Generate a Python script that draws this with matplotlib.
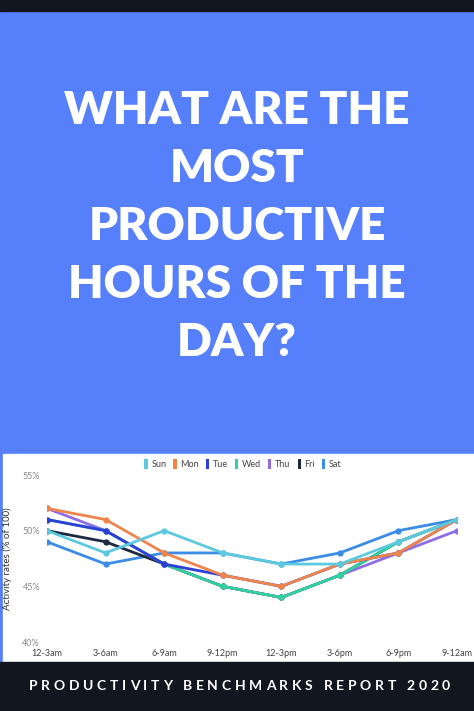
import numpy as np
import matplotlib
matplotlib.use("Agg")
import matplotlib.pyplot as plt
from matplotlib.patches import Rectangle, Patch

# Data (activity rate, % of 100)
slots = ["12-3am", "3-6am", "6-9am", "9-12pm", "12-3pm", "3-6pm", "6-9pm", "9-12am"]
days = ["Sun", "Mon", "Tue", "Wed", "Thu", "Fri", "Sat"]
sun = [50, 48, 50, 48, 47, 47, 49, 51]
mon = [52, 51, 48, 46, 45, 47, 48, 51]
tue = [51, 50, 47, 46, 45, 47, 48, 51]
wed = [51, 50, 47, 45, 44, 46, 49, 51]
thu = [52, 50, 47, 45, 44, 46, 48, 50]
fri = [50, 49, 47, 45, 44, 46, 49, 51]
sat = [49, 47, 48, 48, 47, 48, 50, 51]
series = [sun, mon, tue, wed, thu, fri, sat]
colors = ["#5cc9df", "#f0854c", "#2d3fd6", "#2fd29c", "#8e6de6", "#1e2840", "#3a8ce6"]
yticks = [40, 45, 50, 55]

title_lines = ["WHAT ARE THE", "MOST", "PRODUCTIVE", "HOURS OF THE", "DAY?"]
footer = "PRODUCTIVITY BENCHMARKS REPORT 2020"

W, H = 474, 711
fig = plt.figure(figsize=(W / 100, H / 100), dpi=100)
fig.patch.set_facecolor("#567ffb")

# background blocks in pixel coords
bg = fig.add_axes([0, 0, 1, 1])
bg.set_xlim(0, W)
bg.set_ylim(H, 0)
bg.axis("off")
bg.add_patch(Rectangle((0, 0), W, 11, color="#11161f"))
bg.add_patch(Rectangle((3, 454), W - 3, 208, color="white"))
bg.add_patch(Rectangle((0, 662), W, H - 662, color="#11161f"))

# title
for i, line in enumerate(title_lines):
    bg.text(W / 2, 110 + i * 58, line, ha="center", va="center", color="white",
            fontsize=33, fontweight="heavy", family="Lato")

# footer, letters spread out to fill x = 29..450
fig.canvas.draw()
renderer = fig.canvas.get_renderer()
widths = []
for ch in footer:
    t = bg.text(0, 0, ch, fontsize=10, fontweight="bold", family="Lato")
    w = t.get_window_extent(renderer).width
    t.remove()
    widths.append(w)
x0, x1 = 29, 450
tracking = (x1 - x0 - sum(widths)) / (len(footer) - 1)
x = x0
for ch, w in zip(footer, widths):
    if ch != " ":
        bg.text(x, 686, ch, ha="left", va="center", color="white",
                fontsize=10, fontweight="bold", family="Lato")
    x += w + tracking

# chart
ax = fig.add_axes([47 / W, 69 / H, 410 / W, 167 / H])
ax.set_facecolor("none")
xs = np.arange(len(slots))
for k in range(len(days) - 1, -1, -1):
    ax.plot(xs, series[k], color=colors[k], lw=2.0, marker="o", ms=3.5,
            zorder=10 + (len(days) - k), solid_joinstyle="round")
ax.set_xlim(0, len(slots) - 1)
ax.set_ylim(40, 55)
ax.set_yticks(yticks)
ax.set_yticklabels([f"{v}%" for v in yticks], color="#8a8a8a", fontsize=6.5, family="Lato")
ax.set_xticks(xs)
ax.set_xticklabels(slots, color="#444444", fontsize=6.5, family="Lato")
ax.tick_params(length=0, pad=5)
ax.tick_params(axis="y", pad=5)
for s in ax.spines.values():
    s.set_visible(False)
ax.set_ylabel("Activity rates (% of 100)", fontsize=7, color="#333333", family="Lato")
ax.yaxis.set_label_coords((12 - 47) / 410, 0.5)

handles = [Patch(facecolor=c, edgecolor="none") for c in colors]
leg = fig.legend(handles, days, loc="center", bbox_to_anchor=(243 / W, 1 - 464 / H),
                 ncol=7, frameon=False, handlelength=0.35, handleheight=1.3,
                 handletextpad=0.4, columnspacing=0.8, prop={"family": "Lato", "size": 6.5})
for t in leg.get_texts():
    t.set_color("#444444")

fig.savefig("out.png", dpi=100, facecolor=fig.get_facecolor())
